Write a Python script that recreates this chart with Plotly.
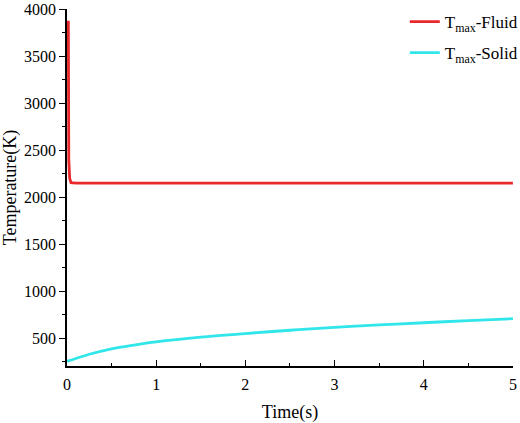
import plotly.graph_objects as go

# Data
fluid_t = [0.015, 0.02, 0.03, 0.045, 0.1, 1.0, 2.0, 3.0, 4.0, 5.0]
fluid_T = [3875, 2400, 2200, 2155, 2150, 2150, 2150, 2150, 2150, 2150]

solid_t = [0.0, 0.1, 0.25, 0.5, 0.75, 1.0, 1.5, 2.0, 2.5, 3.0, 3.5, 4.0, 4.5, 5.0]
solid_T = [256, 285, 330, 388, 428, 462, 512, 550, 585, 615, 642, 665, 688, 708]

x_ticks = [0, 1, 2, 3, 4, 5]
x_minor = [0.5, 1.5, 2.5, 3.5, 4.5]
y_ticks = [500, 1000, 1500, 2000, 2500, 3000, 3500, 4000]
y_minor = [250, 750, 1250, 1750, 2250, 2750, 3250, 3750]

FONT = "Liberation Serif"

fig = go.Figure()
fig.add_trace(go.Scatter(x=fluid_t, y=fluid_T, mode="lines",
                         name="T<sub>max</sub>-Fluid", legendgroup="fluid",
                         line=dict(color="#e8282b", width=2.8)))
fig.add_trace(go.Scatter(x=solid_t, y=solid_T, mode="lines", line_shape="spline",
                         name="T<sub>max</sub>-Solid", legendgroup="solid",
                         line=dict(color="#30e6ea", width=2.8)))

fig.update_layout(
    width=520, height=423,
    margin=dict(l=67, r=7, t=9, b=57, autoexpand=False),
    paper_bgcolor="white", plot_bgcolor="white",
    font=dict(family=FONT, size=16, color="black"),
    showlegend=True,
    legend=dict(x=1.022, y=1.014, xanchor="right", yanchor="top",
                bgcolor="rgba(0,0,0,0)", font=dict(family=FONT, size=17),
                tracegroupgap=6),
    xaxis=dict(range=[0, 5.001], tickmode="array", tickvals=x_ticks,
               ticktext=[str(v) for v in x_ticks], ticklabeloverflow="allow",
               ticklabelstandoff=3,
               ticks="inside", ticklen=6,
               tickwidth=1.2, tickcolor="black", showline=True, linecolor="black",
               linewidth=1.8, showgrid=False, zeroline=False,
               minor=dict(ticks="inside", ticklen=3, tickvals=x_minor, tickcolor="black"),
               title=dict(text="Time(s)", font=dict(size=18), standoff=15),
               tickfont=dict(size=16)),
    yaxis=dict(range=[205, 4000.5], tickvals=y_ticks, ticks="outside", ticklen=6,
               ticklabeloverflow="allow",
               tickwidth=1.2, tickcolor="black", showline=True, linecolor="black",
               linewidth=1.8, showgrid=False, zeroline=False,
               minor=dict(ticks="outside", ticklen=3, tickvals=y_minor, tickcolor="black"),
               title=dict(text="Temperature(K)", font=dict(size=18), standoff=4),
               tickfont=dict(size=16)),
)

# remove the default 8px page margin so the 520x423 figure fills the window
fig.write_html("out.html", config={"displayModeBar": False},
               post_script="document.body.style.margin='0px';")
